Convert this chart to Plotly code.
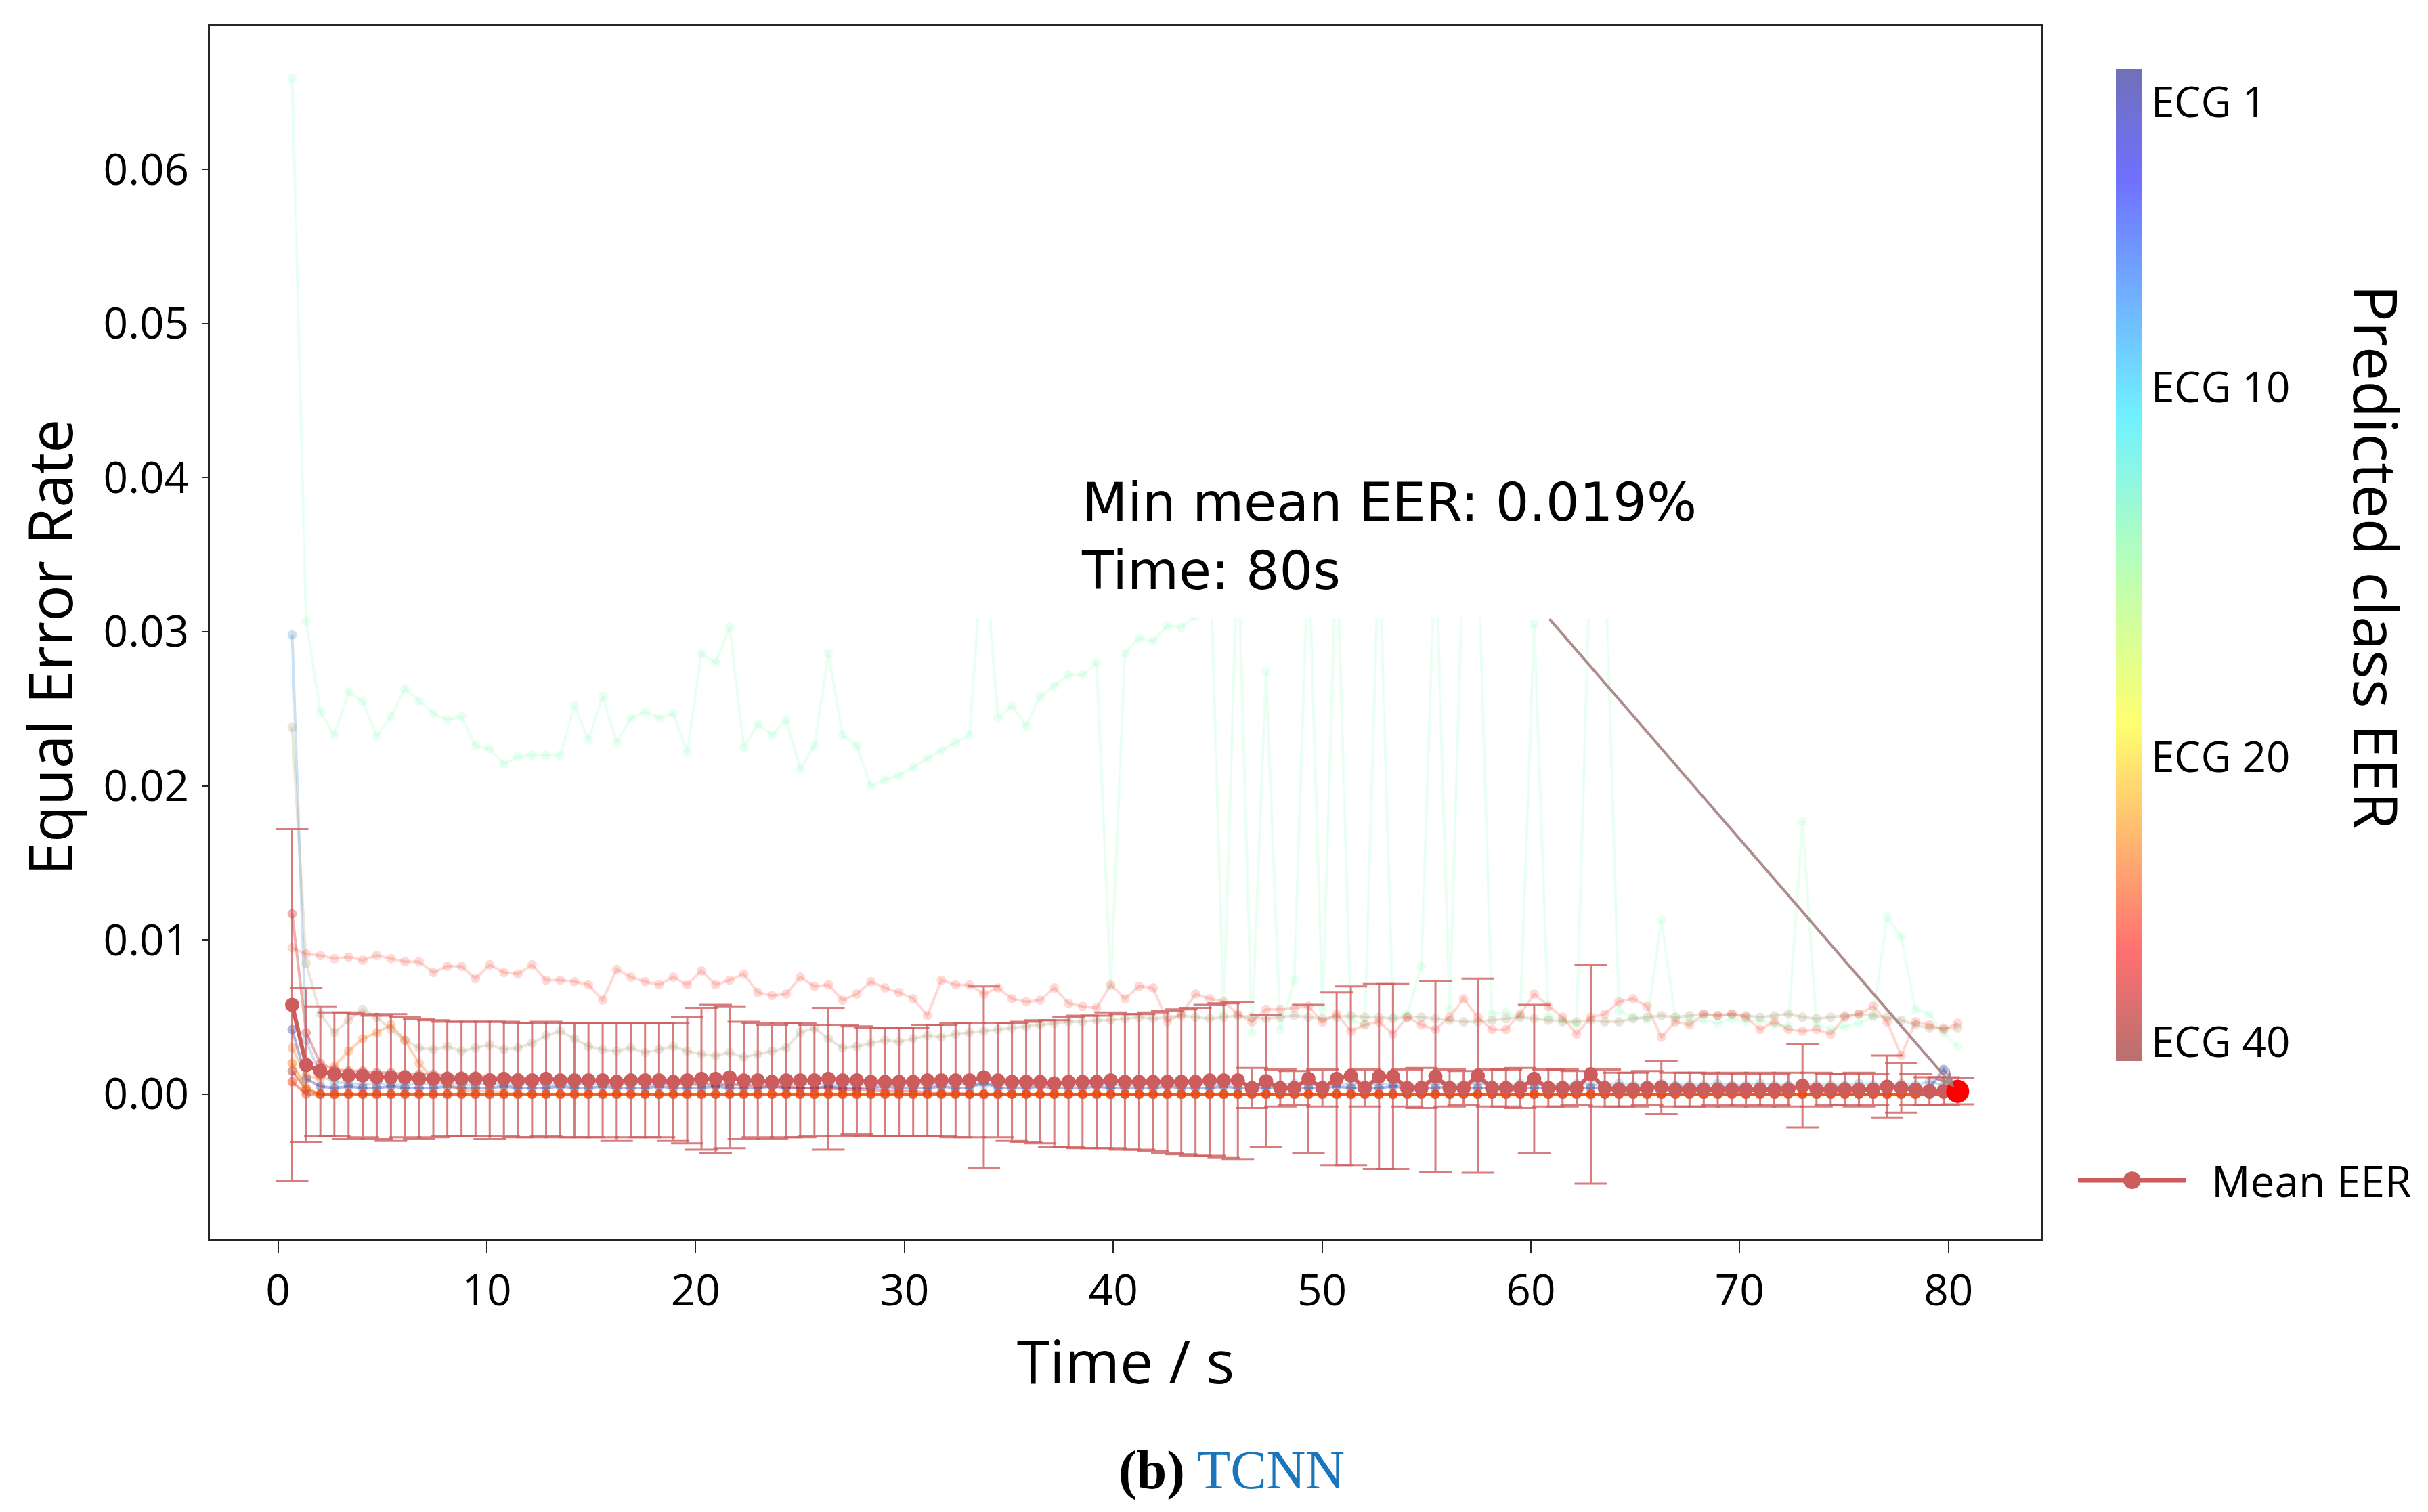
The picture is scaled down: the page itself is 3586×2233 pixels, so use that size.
import plotly.graph_objects as go
from plotly.colors import sample_colorscale, unlabel_rgb

# Time axis (s) and per-class EER values
time_s = [0.68, 1.35, 2.03, 2.70, 3.38, 4.06, 4.73, 5.41, 6.08, 6.76,
          7.44, 8.11, 8.79, 9.46, 10.14, 10.82, 11.49, 12.17, 12.84, 13.52,
          14.20, 14.87, 15.55, 16.22, 16.90, 17.58, 18.25, 18.93, 19.60, 20.28,
          20.96, 21.63, 22.31, 22.98, 23.66, 24.34, 25.01, 25.69, 26.36, 27.04,
          27.72, 28.39, 29.07, 29.74, 30.42, 31.10, 31.77, 32.45, 33.12, 33.80,
          34.48, 35.15, 35.83, 36.50, 37.18, 37.86, 38.53, 39.21, 39.88, 40.56,
          41.24, 41.91, 42.59, 43.26, 43.94, 44.62, 45.29, 45.97, 46.64, 47.32,
          48.00, 48.67, 49.35, 50.02, 50.70, 51.38, 52.05, 52.73, 53.40, 54.08,
          54.76, 55.43, 56.11, 56.78, 57.46, 58.14, 58.81, 59.49, 60.16, 60.84,
          61.52, 62.19, 62.87, 63.54, 64.22, 64.90, 65.57, 66.25, 66.92, 67.60,
          68.28, 68.95, 69.63, 70.30, 70.98, 71.66, 72.33, 73.01, 73.68, 74.36,
          75.04, 75.71, 76.39, 77.06, 77.74, 78.42, 79.09, 79.77, 80.44]

mean_eer = [0.0058, 0.0019, 0.0015, 0.0013, 0.0012, 0.0012, 0.0011, 0.0011, 0.0011, 0.0010,
            0.0010, 0.0010, 0.0010, 0.0010, 0.0009, 0.0010, 0.0009, 0.0009, 0.0010, 0.0009,
            0.0009, 0.0009, 0.0009, 0.0008, 0.0009, 0.0009, 0.0009, 0.0008, 0.0009, 0.0010,
            0.0010, 0.0011, 0.0009, 0.0009, 0.0008, 0.0009, 0.0009, 0.0009, 0.0010, 0.0009,
            0.0009, 0.0008, 0.0008, 0.0008, 0.0008, 0.0009, 0.0009, 0.0009, 0.0009, 0.0011,
            0.0009, 0.0008, 0.0008, 0.0008, 0.0007, 0.0008, 0.0008, 0.0008, 0.0009, 0.0008,
            0.0008, 0.0008, 0.0008, 0.0008, 0.0008, 0.0009, 0.0009, 0.0009, 0.0004, 0.00085,
            0.0004, 0.0004, 0.0010, 0.0004, 0.0010, 0.0012, 0.0004, 0.00115, 0.00115, 0.0004,
            0.0004, 0.00115, 0.0004, 0.0004, 0.0012, 0.0004, 0.0004, 0.0004, 0.0010, 0.0004,
            0.0004, 0.0004, 0.0013, 0.0004, 0.0003, 0.0003, 0.0004, 0.00045, 0.0003, 0.0003,
            0.0003, 0.0003, 0.0003, 0.0003, 0.0003, 0.0003, 0.0003, 0.00055, 0.0003, 0.0003,
            0.0003, 0.0003, 0.0003, 0.0005, 0.0004, 0.0003, 0.0002, 0.0002, 0.00019]

std_eer = [0.0114, 0.0050, 0.0042, 0.0040, 0.0041, 0.0040, 0.0040, 0.0041, 0.0039, 0.0039,
           0.0038, 0.0037, 0.0037, 0.0037, 0.0038, 0.0037, 0.0037, 0.0037, 0.0037, 0.0037,
           0.0037, 0.0037, 0.0037, 0.0038, 0.0037, 0.0037, 0.0037, 0.0038, 0.0041, 0.0046,
           0.0048, 0.0046, 0.0038, 0.0037, 0.0037, 0.0037, 0.0037, 0.0036, 0.0046, 0.0036,
           0.0035, 0.0035, 0.0035, 0.0035, 0.0035, 0.0036, 0.0036, 0.0037, 0.0037, 0.0059,
           0.0037, 0.0038, 0.0039, 0.0040, 0.0041, 0.0042, 0.0043, 0.0043, 0.0044, 0.0044,
           0.0044, 0.0045, 0.0046, 0.0047, 0.0048, 0.0049, 0.0050, 0.0051, 0.0013, 0.0043,
           0.0012, 0.0011, 0.0048, 0.0012, 0.0056, 0.0058, 0.0012, 0.0060, 0.0060, 0.0012,
           0.0013, 0.0062, 0.0012, 0.0011, 0.0063, 0.0012, 0.0012, 0.0013, 0.0048, 0.0012,
           0.0012, 0.0011, 0.0071, 0.0012, 0.0011, 0.0011, 0.0011, 0.0017, 0.0011, 0.0011,
           0.0011, 0.0010, 0.0011, 0.0010, 0.0011, 0.0010, 0.0011, 0.0027, 0.0011, 0.0010,
           0.0010, 0.0011, 0.0010, 0.0020, 0.0016, 0.0010, 0.0009, 0.0009, 0.00085]

ecg_2 = [0.0042, 0.0010, 0.0005, 0.0004, 0.0005, 0.0004, 0.0004, 0.0005, 0.0004, 0.0004,
         0.0004, 0.0005, 0.0004, 0.0004, 0.0004, 0.0005, 0.0004, 0.0004, 0.0004, 0.0005,
         0.0004, 0.0004, 0.0005, 0.0004, 0.0004, 0.0004, 0.0005, 0.0004, 0.0004, 0.0004,
         0.0005, 0.0004, 0.0004, 0.0004, 0.0005, 0.0004, 0.0004, 0.0004, 0.0005, 0.0004,
         0.0004, 0.0004, 0.0005, 0.0004, 0.0004, 0.0004, 0.0005, 0.0004, 0.0004, 0.0008,
         0.0004, 0.0004, 0.0004, 0.0005, 0.0004, 0.0004, 0.0004, 0.0005, 0.0004, 0.0004,
         0.0004, 0.0004, 0.0005, 0.0004, 0.0004, 0.0004, 0.0005, 0.0004, 0.0004, 0.0004,
         0.0005, 0.0004, 0.0004, 0.0004, 0.0005, 0.0004, 0.0004, 0.0004, 0.0005, 0.0004,
         0.0004, 0.0004, 0.0005, 0.0004, 0.0004, 0.0004, 0.0005, 0.0004, 0.0004, 0.0004,
         0.0005, 0.0004, 0.0004, 0.0004, 0.0005, 0.0004, 0.0004, 0.0004, 0.0005, 0.0004,
         0.0004, 0.0004, 0.0005, 0.0004, 0.0004, 0.0004, 0.0005, 0.0004, 0.0004, 0.0004,
         0.0005, 0.0004, 0.0004, 0.0004, 0.0005, 0.0004, 0.0004, 0.0016, 0.0004]

ecg_7 = [0.0298, 0.0035, 0.0012, 0.0008, 0.0007, 0.0006, 0.0007, 0.0006, 0.0006, 0.0007,
         0.0006, 0.0007, 0.0006, 0.0006, 0.0007, 0.0006, 0.0006, 0.0007, 0.0006, 0.0006,
         0.0006, 0.0007, 0.0006, 0.0006, 0.0007, 0.0006, 0.0006, 0.0007, 0.0006, 0.0006,
         0.0006, 0.0007, 0.0006, 0.0006, 0.0007, 0.0006, 0.0006, 0.0007, 0.0006, 0.0006,
         0.0006, 0.0007, 0.0006, 0.0006, 0.0007, 0.0006, 0.0006, 0.0007, 0.0006, 0.0006,
         0.0006, 0.0007, 0.0006, 0.0006, 0.0007, 0.0006, 0.0006, 0.0007, 0.0006, 0.0006,
         0.0006, 0.0007, 0.0006, 0.0006, 0.0007, 0.0006, 0.0006, 0.0007, 0.0006, 0.0006,
         0.0006, 0.0007, 0.0006, 0.0006, 0.0007, 0.0006, 0.0006, 0.0007, 0.0006, 0.0006,
         0.0006, 0.0007, 0.0006, 0.0006, 0.0007, 0.0006, 0.0006, 0.0007, 0.0006, 0.0006,
         0.0006, 0.0007, 0.0006, 0.0006, 0.0007, 0.0006, 0.0006, 0.0007, 0.0006, 0.0006,
         0.0006, 0.0007, 0.0006, 0.0006, 0.0007, 0.0006, 0.0006, 0.0007, 0.0006, 0.0006,
         0.0006, 0.0007, 0.0006, 0.0006, 0.0007, 0.0006, 0.0008, 0.0006, 0.0006]

ecg_12 = [0.0659, 0.0307, 0.0248, 0.0233, 0.0261, 0.0255, 0.0232, 0.0245, 0.0263, 0.0255,
          0.0247, 0.0243, 0.0245, 0.0226, 0.0224, 0.0214, 0.0219, 0.0220, 0.0220, 0.0220,
          0.0252, 0.0230, 0.0258, 0.0228, 0.0244, 0.0248, 0.0244, 0.0247, 0.0222, 0.0286,
          0.0280, 0.0303, 0.0225, 0.0240, 0.0233, 0.0243, 0.0211, 0.0226, 0.0286, 0.0233,
          0.0226, 0.0200, 0.0204, 0.0207, 0.0212, 0.0218, 0.0223, 0.0228, 0.0233, 0.0360,
          0.0244, 0.0252, 0.0239, 0.0258, 0.0265, 0.0272, 0.0272, 0.0280, 0.0070, 0.0286,
          0.0296, 0.0294, 0.0304, 0.0303, 0.0310, 0.0360, 0.0052, 0.0360, 0.0040, 0.0274,
          0.0042, 0.0074, 0.0360, 0.0055, 0.0360, 0.0048, 0.0045, 0.0360, 0.0050, 0.0052,
          0.0083, 0.0360, 0.0055, 0.0360, 0.0360, 0.0052, 0.0053, 0.0050, 0.0305, 0.0050,
          0.0048, 0.0045, 0.0360, 0.0360, 0.0054, 0.0050, 0.0048, 0.0113, 0.0050, 0.0047,
          0.0048, 0.0046, 0.0049, 0.0047, 0.0048, 0.0045, 0.0044, 0.0177, 0.0045, 0.0042,
          0.0044, 0.0046, 0.0050, 0.0115, 0.0102, 0.0055, 0.0052, 0.0040, 0.0031]

ecg_19 = [0.0238, 0.0085, 0.0052, 0.0040, 0.0048, 0.0055, 0.0050, 0.0042, 0.0035, 0.0030,
          0.0029, 0.0031, 0.0028, 0.0030, 0.0032, 0.0029, 0.0030, 0.0033, 0.0038, 0.0041,
          0.0036, 0.0031, 0.0029, 0.0028, 0.0030, 0.0027, 0.0029, 0.0031, 0.0028, 0.0026,
          0.0025, 0.0027, 0.0024, 0.0026, 0.0028, 0.0030, 0.0040, 0.0043, 0.0036, 0.0030,
          0.0031, 0.0033, 0.0035, 0.0034, 0.0036, 0.0038, 0.0037, 0.0039, 0.0040, 0.0041,
          0.0042, 0.0043, 0.0044, 0.0045, 0.0046, 0.0047, 0.0047, 0.0048, 0.0048, 0.0049,
          0.0050, 0.0049, 0.0050, 0.0051, 0.0050, 0.0049, 0.0050, 0.0051, 0.0050, 0.0049,
          0.0050, 0.0051, 0.0050, 0.0049, 0.0050, 0.0051, 0.0050, 0.0050, 0.0049, 0.0050,
          0.0050, 0.0049, 0.0048, 0.0047, 0.0047, 0.0048, 0.0049, 0.0050, 0.0049, 0.0048,
          0.0047, 0.0047, 0.0048, 0.0047, 0.0047, 0.0049, 0.0050, 0.0051, 0.0050, 0.0051,
          0.0052, 0.0051, 0.0052, 0.0051, 0.0050, 0.0051, 0.0052, 0.0050, 0.0049, 0.0050,
          0.0051, 0.0052, 0.0051, 0.0050, 0.0048, 0.0045, 0.0043, 0.0043, 0.0043]

ecg_22 = [0.0020, 0.0004, 0, 0, 0, 0, 0, 0, 0, 0,
          0, 0, 0, 0, 0, 0, 0, 0, 0, 0,
          0, 0, 0, 0, 0, 0, 0, 0, 0, 0,
          0, 0, 0, 0, 0, 0, 0, 0, 0, 0,
          0, 0, 0, 0, 0, 0, 0, 0, 0, 0,
          0, 0, 0, 0, 0, 0, 0, 0, 0, 0,
          0, 0, 0, 0, 0, 0, 0, 0, 0, 0,
          0, 0, 0, 0, 0, 0, 0, 0, 0, 0,
          0, 0, 0, 0, 0, 0, 0, 0, 0, 0,
          0, 0, 0, 0, 0, 0, 0, 0, 0, 0,
          0, 0, 0, 0, 0, 0, 0, 0, 0, 0,
          0, 0, 0, 0, 0, 0, 0, 0, 0]

ecg_24 = [0.0030, 0.0012, 0.0010, 0.0018, 0.0028, 0.0036, 0.0040, 0.0045, 0.0035, 0.0020,
          0.0010, 0.0006, 0.0003, 0.0002, 0.0002, 0.0001, 0, 0, 0, 0,
          0, 0, 0, 0, 0, 0, 0, 0, 0, 0,
          0, 0, 0, 0, 0, 0, 0, 0, 0, 0,
          0, 0, 0, 0, 0, 0, 0, 0, 0, 0,
          0, 0, 0, 0, 0, 0, 0, 0, 0, 0,
          0, 0, 0, 0, 0, 0, 0, 0, 0, 0,
          0, 0, 0, 0, 0, 0, 0, 0, 0, 0,
          0, 0, 0, 0, 0, 0, 0, 0, 0, 0,
          0, 0, 0, 0, 0, 0, 0, 0, 0, 0,
          0, 0, 0, 0, 0, 0, 0, 0, 0, 0,
          0, 0, 0, 0, 0, 0, 0, 0, 0]

ecg_27 = [0.0008, 0, 0, 0, 0, 0, 0, 0, 0, 0,
          0, 0, 0, 0, 0, 0, 0, 0, 0, 0,
          0, 0, 0, 0, 0, 0, 0, 0, 0, 0,
          0, 0, 0, 0, 0, 0, 0, 0, 0, 0,
          0, 0, 0, 0, 0, 0, 0, 0, 0, 0,
          0, 0, 0, 0, 0, 0, 0, 0, 0, 0,
          0, 0, 0, 0, 0, 0, 0, 0, 0, 0,
          0, 0, 0, 0, 0, 0, 0, 0, 0, 0,
          0, 0, 0, 0, 0, 0, 0, 0, 0, 0,
          0, 0, 0, 0, 0, 0, 0, 0, 0, 0,
          0, 0, 0, 0, 0, 0, 0, 0, 0, 0,
          0, 0, 0, 0, 0, 0, 0, 0, 0]

ecg_31 = [0.0095, 0.0091, 0.0090, 0.0088, 0.0089, 0.0087, 0.0090, 0.0088, 0.0086, 0.0086,
          0.0079, 0.0083, 0.0083, 0.0075, 0.0084, 0.0079, 0.0078, 0.0084, 0.0074, 0.0074,
          0.0073, 0.0071, 0.0061, 0.0081, 0.0076, 0.0073, 0.0071, 0.0076, 0.0071, 0.0080,
          0.0071, 0.0074, 0.0078, 0.0066, 0.0064, 0.0065, 0.0076, 0.0070, 0.0071, 0.0061,
          0.0065, 0.0073, 0.0069, 0.0066, 0.0062, 0.0051, 0.0074, 0.0071, 0.0071, 0.0065,
          0.0069, 0.0062, 0.0060, 0.0061, 0.0069, 0.0059, 0.0057, 0.0056, 0.0071, 0.0062,
          0.0070, 0.0069, 0.0047, 0.0052, 0.0065, 0.0062, 0.0060, 0.0052, 0.0047, 0.0055,
          0.0055, 0.0056, 0.0057, 0.0047, 0.0052, 0.0041, 0.0045, 0.0047, 0.0039, 0.0050,
          0.0045, 0.0042, 0.0050, 0.0062, 0.0050, 0.0042, 0.0042, 0.0052, 0.0065, 0.0057,
          0.0050, 0.0039, 0.0050, 0.0052, 0.0060, 0.0062, 0.0057, 0.0037, 0.0047, 0.0045,
          0.0052, 0.0051, 0.0052, 0.0050, 0.0042, 0.0047, 0.0042, 0.0041, 0.0042, 0.0039,
          0.0050, 0.0052, 0.0057, 0.0047, 0.0025, 0.0047, 0.0045, 0.0042, 0.0046]

ecg_34 = [0.0117, 0.0040, 0.0020, 0.0016, 0.0015, 0.0015, 0.0014, 0.0014, 0.0013, 0.0013,
          0.0013, 0.0012, 0.0012, 0.0012, 0.0011, 0.0011, 0.0011, 0.0010, 0.0010, 0.0010,
          0.0010, 0.0009, 0.0009, 0.0009, 0.0008, 0.0008, 0.0008, 0.0007, 0.0007, 0.0007,
          0.0006, 0.0006, 0.0006, 0.0005, 0.0005, 0.0005, 0.0004, 0.0004, 0.0004, 0.0003,
          0.0003, 0.0003, 0.0002, 0.0002, 0.0002, 0.0001, 0.0001, 0.0001, 0, 0,
          0, 0, 0, 0, 0, 0, 0, 0, 0, 0,
          0, 0, 0, 0, 0, 0, 0, 0, 0, 0,
          0, 0, 0, 0, 0, 0, 0, 0, 0, 0,
          0, 0, 0, 0, 0, 0, 0, 0, 0, 0,
          0, 0, 0, 0, 0, 0, 0, 0, 0, 0,
          0, 0, 0, 0, 0, 0, 0, 0, 0, 0,
          0, 0, 0, 0, 0, 0, 0, 0, 0]

ecg_38 = [0.0015, 0.0003, 0, 0, 0, 0, 0, 0, 0, 0,
          0, 0, 0, 0, 0, 0, 0, 0, 0, 0,
          0, 0, 0, 0, 0, 0, 0, 0, 0, 0,
          0, 0, 0, 0, 0, 0, 0, 0, 0, 0,
          0, 0, 0, 0, 0, 0, 0, 0, 0, 0,
          0, 0, 0, 0, 0, 0, 0, 0, 0, 0,
          0, 0, 0, 0, 0, 0, 0, 0, 0, 0,
          0, 0, 0, 0, 0, 0, 0, 0, 0, 0,
          0, 0, 0, 0, 0, 0, 0, 0, 0, 0,
          0, 0, 0, 0, 0, 0, 0, 0, 0, 0,
          0, 0, 0, 0, 0, 0, 0, 0, 0, 0,
          0, 0, 0, 0, 0, 0, 0, 0, 0]

class_series = [ecg_2, ecg_7, ecg_12, ecg_19, ecg_31, ecg_34, ecg_38, ecg_24, ecg_22, ecg_27]
class_names = ["ECG 2", "ECG 7", "ECG 12", "ECG 19", "ECG 31", "ECG 34", "ECG 38", "ECG 24", "ECG 22", "ECG 27"]

cbar_tick_text = ["ECG 1", "ECG 10", "ECG 20", "ECG 40"]

# styling (kept apart from the data): position on the jet scale and alpha per class
class_jet_pos = [0.03, 0.25, 0.47, None, 0.78, 0.88, 0.95, 0.72, 0.70, 0.76]
class_alpha = [0.3, 0.2, 0.14, 0.26, 0.16, 0.3, 0.35, 0.28, 0.45, 0.45]
GREIGE = "rgba(175,160,120,{a})"
cbar_tick_pos = [0.9666, 0.679, 0.3065, 0.0191]
cbar_scale = [[0.0, "rgb(184,112,112)"], [0.11, "rgb(255,112,112)"],
              [0.34, "rgb(255,255,112)"], [0.5, "rgb(184,255,184)"],
              [0.65, "rgb(112,241,255)"], [0.89, "rgb(112,112,255)"],
              [1.0, "rgb(112,112,184)"]]
MEAN_COLOR = "#cd5c5c"
FONT = "Open Sans"


def faded(pos, alpha):
    if pos is None:
        return GREIGE.format(a=alpha)
    r, g, b = unlabel_rgb(sample_colorscale("Jet", [pos])[0])
    return f"rgba({r:.0f},{g:.0f},{b:.0f},{alpha})"


fig = go.Figure()

for name, vals, pos, a in zip(class_names, class_series, class_jet_pos, class_alpha):
    col = faded(pos, a)
    fig.add_trace(go.Scatter(
        x=time_s, y=vals, mode="lines+markers", name=name, showlegend=False,
        line=dict(color=col, width=4), marker=dict(color=col, size=14)
    ))

# mean EER with std error bars
fig.add_trace(go.Scatter(
    x=time_s, y=mean_eer, mode="lines+markers", name="Mean EER", showlegend=False,
    line=dict(color=MEAN_COLOR, width=6), marker=dict(color=MEAN_COLOR, size=21),
    error_y=dict(type="data", array=std_eer, color="rgba(205,92,92,0.8)",
                 thickness=3, width=24)
))

# minimum mean EER marker
i_min = min(range(len(mean_eer)), key=lambda i: mean_eer[i])
t_min, v_min = time_s[i_min], mean_eer[i_min]
fig.add_trace(go.Scatter(
    x=[t_min], y=[v_min], mode="markers", showlegend=False,
    marker=dict(color="#ff0000", size=34)
))

# dummy trace to carry the class colour bar
fig.add_trace(go.Scatter(
    x=[None], y=[None], mode="markers", showlegend=False, hoverinfo="skip",
    marker=dict(color=[0, 1], cmin=0, cmax=1, colorscale=cbar_scale, showscale=True,
                colorbar=dict(thickness=39, len=1465, lenmode="pixels",
                              x=1.0407, xanchor="left", xpad=0,
                              y=0.9643, yanchor="top", ypad=0, outlinewidth=0,
                              tickvals=cbar_tick_pos, ticktext=cbar_tick_text, ticks="",
                              tickfont=dict(family=FONT, size=62, color="black")))
))

# white box behind the annotation text (hides the line tops, like the original bbox)
fig.add_annotation(x=32.6, y=0.0309, xref="x", yref="y", text=" ", showarrow=False,
                   xanchor="left", yanchor="bottom", width=1150, height=225,
                   bgcolor="white", borderpad=0)
fig.add_annotation(x=38.4, y=0.0319, xref="x", yref="y", showarrow=False,
                   xanchor="left", yanchor="bottom", align="left",
                   text=f"Min mean EER: {v_min * 100:.3f}%<br>Time: {int(t_min)}s",
                   font=dict(family="DejaVu Sans", size=78, color="black"))
fig.add_annotation(x=t_min, y=v_min, xref="x", yref="y", ax=60.85, ay=0.0309,
                   axref="x", ayref="y", text="", showarrow=True, arrowhead=3,
                   arrowsize=1.2, arrowwidth=4, arrowcolor="rgba(165,130,130,0.9)",
                   standoff=8)

# hand-drawn legend entry (long line sample as in the original)
fig.add_shape(type="line", xref="paper", yref="paper", x0=1.020, x1=1.079,
              y0=0.0485, y1=0.0485, line=dict(color=MEAN_COLOR, width=7))
fig.add_shape(type="circle", xref="paper", yref="paper", x0=1.0447, x1=1.0543,
              y0=0.0413, y1=0.0557, fillcolor=MEAN_COLOR, line=dict(width=0))
fig.add_annotation(x=1.092, y=0.0485, xref="paper", yref="paper", text="Mean EER",
                   showarrow=False, xanchor="left", yanchor="middle",
                   font=dict(family=FONT, size=64, color="black"))

fig.add_annotation(x=1.1834, y=0.562, xref="paper", yref="paper", text="Predicted class EER",
                   showarrow=False, textangle=90, xanchor="center", yanchor="middle",
                   font=dict(family=FONT, size=90, color="black"))

fig.add_annotation(x=-0.0878, y=0.4877, xref="paper", yref="paper", text="Equal Error Rate",
                   showarrow=False, textangle=-90, xanchor="center", yanchor="middle",
                   font=dict(family=FONT, size=89, color="black"))

fig.add_annotation(x=0.558, y=-0.1908, xref="paper", yref="paper", showarrow=False,
                   xanchor="center", yanchor="middle",
                   text="<b>(b)</b> <span style='color:#1b75bb'>TCNN</span>",
                   font=dict(family="Liberation Serif", size=80, color="black"))

axis_common = dict(showgrid=False, zeroline=False, showline=True, mirror=True,
                   linecolor="#262626", linewidth=3, ticks="outside", tickwidth=2,
                   tickcolor="#262626", tickfont=dict(family=FONT, size=64, color="black"))

fig.update_layout(
    width=3586, height=2233,
    margin=dict(l=302, r=579, t=30, b=411),
    paper_bgcolor="white", plot_bgcolor="white",
    xaxis=dict(range=[-3.26, 84.45], tick0=0, dtick=10, ticklen=18,
               title=dict(text="Time / s", font=dict(family=FONT, size=88, color="black"),
                          standoff=36),
               **axis_common),
    yaxis=dict(range=[-0.0094, 0.06932], tick0=0, dtick=0.01, tickformat=".2f", ticklen=9,
               ticklabelstandoff=6, **axis_common),
)

fig.write_html("out.html")
